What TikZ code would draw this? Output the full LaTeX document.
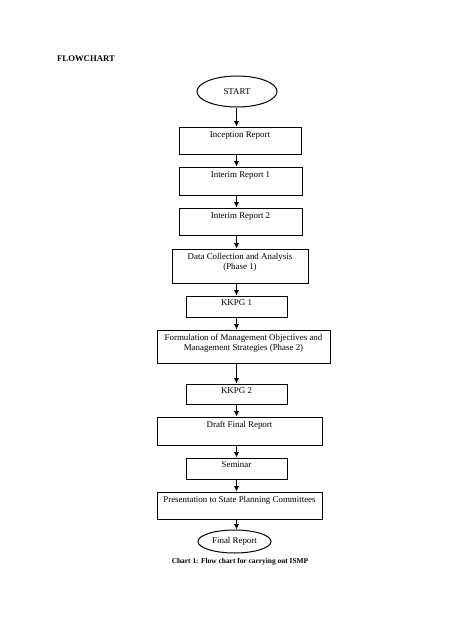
\documentclass[tikz,border=0pt]{standalone}
\usepackage{fontspec}
\setmainfont{Liberation Serif}
\usetikzlibrary{arrows.meta,shapes.geometric}
\begin{document}
\begin{tikzpicture}[x=1pt,y=-1pt,
  font=\fontsize{8.9}{10.2}\selectfont,
  stepbox/.style={draw=black,line width=1pt,rectangle,inner sep=0pt},
  boxtext/.style={anchor=north,inner sep=0pt,align=center,yshift=-4.5pt},
  term/.style={draw=black,line width=1pt,ellipse,inner sep=0pt},
  arr/.style={line width=1.7pt,-{Latex[length=5.5pt,width=5.5pt]}}]
\useasboundingbox (0,0) rectangle (474,632);
\node[font=\fontsize{8.7}{10}\selectfont\bfseries] (title) at (86,59) {FLOWCHART};
\coordinate (axis) at (236.5,0);
\node[term,minimum width=80pt,minimum height=31pt] (start) at (237,91.5) {START};
\node[stepbox,minimum width=122pt,minimum height=27pt] (inc) at (240,140.5) {};
\node[boxtext] (inct) at (inc.north) {Inception Report};
\node[stepbox,minimum width=123pt,minimum height=28pt] (ir1) at (240.5,181) {};
\node[boxtext] (ir1t) at (ir1.north) {Interim Report 1};
\node[stepbox,minimum width=123pt,minimum height=27pt] (ir2) at (240.5,221.5) {};
\node[boxtext] (ir2t) at (ir2.north) {Interim Report 2};
\node[stepbox,minimum width=136pt,minimum height=34pt] (dca) at (240,266) {};
\node[boxtext] (dcat) at (dca.north) {Data Collection and Analysis\\(Phase 1)};
\node[stepbox,minimum width=101pt,minimum height=21pt] (kk1) at (236.5,306.5) {};
\node[boxtext,yshift=1pt] (kk1t) at (kk1.north) {KKPG 1};
\node[stepbox,minimum width=173pt,minimum height=33pt] (form) at (243.5,346.5) {};
\node[boxtext] (formt) at (form.north) {Formulation of Management Objectives and\\Management Strategies (Phase 2)};
\node[stepbox,minimum width=101pt,minimum height=20pt] (kk2) at (236.5,394) {};
\node[boxtext,yshift=1pt] (kk2t) at (kk2.north) {KKPG 2};
\node[stepbox,minimum width=165pt,minimum height=28pt] (dfr) at (239.5,431) {};
\node[boxtext] (dfrt) at (dfr.north) {Draft Final Report};
\node[stepbox,minimum width=101pt,minimum height=21pt] (sem) at (236.5,468.5) {};
\node[boxtext,yshift=1pt] (semt) at (sem.north) {Seminar};
\node[stepbox,minimum width=165pt,minimum height=27pt] (pres) at (239.5,505.5) {};
\node[boxtext] (prest) at (pres.north) {Presentation to State Planning Committees};
\node[term,minimum width=73pt,minimum height=23pt] (fin) at (234.5,541.5) {Final Report};
\node[font=\fontsize{7.4}{9}\selectfont\bfseries] (cap) at (240,562) {Chart 1: Flow chart for carrying out ISMP};
\draw[arr] (start.south -| axis) -- (inc.north -| axis);
\draw[arr] (inc.south -| axis) -- (ir1.north -| axis);
\draw[arr] (ir1.south -| axis) -- (ir2.north -| axis);
\draw[arr] (ir2.south -| axis) -- (dca.north -| axis);
\draw[arr] (dca.south -| axis) -- (kk1.north -| axis);
\draw[arr] (kk1.south -| axis) -- (form.north -| axis);
\draw[arr] (form.south -| axis) -- (kk2.north -| axis);
\draw[arr] (kk2.south -| axis) -- (dfr.north -| axis);
\draw[arr] (dfr.south -| axis) -- (sem.north -| axis);
\draw[arr] (sem.south -| axis) -- (pres.north -| axis);
\draw[arr] (pres.south -| axis) -- (fin.north -| axis);
\end{tikzpicture}
\end{document}
